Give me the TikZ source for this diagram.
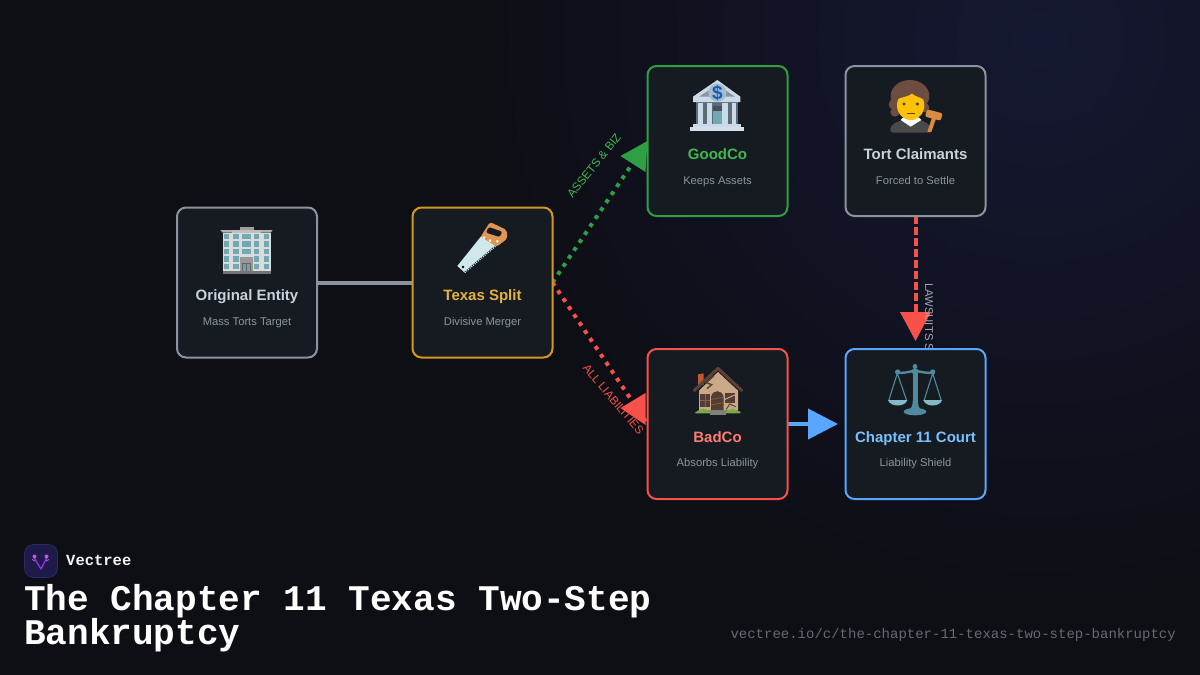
\documentclass[tikz,border=0pt]{standalone}
\usepackage{fontspec}
\setmainfont{Liberation Sans}
\newfontfamily\monofont{Liberation Mono}
\usetikzlibrary{arrows.meta,calc}
\definecolor{bgc}{HTML}{0E0E15}
\definecolor{glow}{HTML}{151832}
\definecolor{cardc}{HTML}{161B22}
\definecolor{grayb}{HTML}{8B949E}
\definecolor{titleg}{HTML}{C9D1D9}
\definecolor{gold}{HTML}{D29922}
\definecolor{goldt}{HTML}{E3B341}
\definecolor{greenb}{HTML}{2EA043}
\definecolor{greent}{HTML}{3FB950}
\definecolor{redb}{HTML}{F85149}
\definecolor{redt}{HTML}{FF7B72}
\definecolor{blueb}{HTML}{58A6FF}
\definecolor{bluet}{HTML}{79C0FF}
\definecolor{logobg}{HTML}{1E1B4B}
\definecolor{logoline}{HTML}{2E2A66}
\definecolor{logov}{HTML}{9333EA}
\definecolor{logod}{HTML}{C05AD8}
\definecolor{urlc}{HTML}{666B73}
\definecolor{windowc}{HTML}{72A8B1}
\pgfdeclarelayer{edges}
\pgfsetlayers{edges,main}
\tikzset{
  card/.style={draw=#1,fill=cardc,line width=2pt,rounded corners=9pt,minimum width=140pt,minimum height=150pt,inner sep=0pt,outer sep=0pt},
  cardtitle/.style={font=\fontsize{15}{18}\selectfont\bfseries,text=#1,anchor=base,inner sep=0pt},
  cardsub/.style={font=\fontsize{11.2}{14}\selectfont,text=grayb,anchor=base,inner sep=0pt},
  edgelabel/.style={font=\fontsize{11.6}{13}\selectfont,text=#1,inner sep=0pt},
  dotline/.style={line width=4pt,dash pattern=on 4pt off 5.6pt,draw=#1},
  icon/.style={x=0.33333pt,y=-0.33333pt},
}
\begin{document}
\begin{tikzpicture}[x=1pt,y=-1pt]
\useasboundingbox (0,0) rectangle (1200,675);
% cards
\node[card=grayb] (orig) at (247,282.5) {};
\node[card=gold] (texas) at (482.5,282.5) {};
\node[card=greenb] (good) at (717.5,141) {};
\node[card=grayb] (tort) at (915.5,141) {};
\node[card=redb] (bad) at (717.5,424) {};
\node[card=blueb] (court) at (915.5,424) {};
% card text
\node[cardtitle=titleg] (origT) at ($(orig.center)+(0,18)$) {Original Entity};
\node[cardsub] (origS) at ($(orig.center)+(0,42.5)$) {Mass Torts Target};
\node[cardtitle=goldt] (texasT) at ($(texas.center)+(0,18)$) {Texas Split};
\node[cardsub] (texasS) at ($(texas.center)+(0,42.5)$) {Divisive Merger};
\node[cardtitle=greent] (goodT) at ($(good.center)+(0,18.5)$) {GoodCo};
\node[cardsub] (goodS) at ($(good.center)+(0,43)$) {Keeps Assets};
\node[cardtitle=titleg] (tortT) at ($(tort.center)+(0,18.5)$) {Tort Claimants};
\node[cardsub] (tortS) at ($(tort.center)+(0,43)$) {Forced to Settle};
\node[cardtitle=redt] (badT) at ($(bad.center)+(0,18.5)$) {BadCo};
\node[cardsub] (badS) at ($(bad.center)+(0,42)$) {Absorbs Liability};
\node[cardtitle=bluet] (courtT) at ($(court.center)+(0,18.5)$) {Chapter 11 Court};
\node[cardsub] (courtS) at ($(court.center)+(0,42)$) {Liability Shield};
% connectors and background
\begin{pgfonlayer}{edges}
\fill[bgc] (0,0) rectangle (1200,675);
\begin{scope}
\clip (0,0) rectangle (1200,675);
\shade[inner color=glow,outer color=bgc] (1040,40) circle (560);
\end{scope}
\draw[grayb,line width=4pt] (orig.east) -- (texas.west);
\draw[dotline=greenb] (texas.east) -- (good.west);
\draw[dotline=redb] (texas.east) -- (bad.west);
\fill[greenb] ($(good.west)+(-27,15)$) -- ($(good.west)+(0,0)$) -- ($(good.west)+(-2,31)$) -- cycle;
\fill[redb] ($(bad.west)+(-27,-16)$) -- ($(bad.west)+(-2,-31)$) -- ($(bad.west)+(-2,1)$) -- cycle;
\draw[redb,line width=4pt,dash pattern=on 7.5pt off 3.5pt,-{Triangle[length=29pt,width=30pt]}] (tort.south) -- ($(court.north)+(0,-8)$);
\draw[blueb,line width=4pt,-{Triangle[length=30pt,width=30pt]}] (bad.east) -- ($(court.west)+(-7.5,0)$);
\node[edgelabel=greent,rotate=51] (lab1) at (594,165.5) {ASSETS \& BIZ};
\node[edgelabel=redb,rotate=-50] (lab2) at (613.5,399.5) {ALL LIABILITIES};
\node[edgelabel=grayb!80!white,rotate=-90,anchor=west,font=\fontsize{11.3}{13}\selectfont] (lab3) at (929,283) {LAWSUITS S};
\end{pgfonlayer}
% building
\begin{scope}[shift={(orig.center)},shift={(-35,-62.5)},icon]
\fill[black!38!white] (84,20) rectangle (125,34);
\fill[black!30!white] (25,30) -- (182,30) -- (176,38) -- (32,38) -- cycle;
\fill[black!14!white] (32,38) rectangle (176,155);
\fill[black!25!white] (60,30) rectangle (148,38);
\foreach \r in {50,72,95,117,140}{
  \foreach \c in {44,72,134,163}{\fill[windowc] (\c-8,\r-8) rectangle (\c+8,\r+8);}
}
\foreach \r in {50,72,95}{\fill[windowc] (91,\r-8) rectangle (117,\r+8);}
\fill[black!40!white] (84,110) rectangle (122,155);
\fill[black!60!white] (90,128) rectangle (118,155);
\fill[windowc!80!gray] (93,131) rectangle (102,155);
\fill[windowc!80!gray] (106,131) rectangle (115,155);
\fill[black!55!white] (32,152) rectangle (176,162);
\end{scope}
% saw
\begin{scope}[shift={(texas.center)},shift={(-34.5,-66.5)},icon]
\definecolor{bladec}{HTML}{CFE8EA}
\definecolor{sawh}{HTML}{E09552}
\draw[bladec,line width=1.2pt,dash pattern=on 1.1pt off 1.1pt] (50,170) -- (147,87);
\fill[bladec] (100,60) -- (28,150) -- (48,168) -- (145,85) -- cycle;
\fill[black!80!cardc] (45,153) circle (4);
\fill[sawh,rounded corners=2pt] (98,62) -- (126,18) -- (176,42) -- (178,68) -- (146,92) -- cycle;
\fill[cardc,rounded corners=1.5pt] (122,33) -- (163,47) -- (155,63) -- (114,50) -- cycle;
\foreach \p in {(108,65),(126,74),(148,76)}{\fill[white!90!sawh] \p circle (4.5);}
\end{scope}
% bank
\begin{scope}[shift={(good.center)},shift={(-34.5,-65)},icon]
\definecolor{bankl}{HTML}{CBDAE8}
\definecolor{bankd}{HTML}{5C6B78}
\definecolor{dollarc}{HTML}{0A5FC4}
\fill[bankd] (38,78) rectangle (166,146);
\fill[bankl] (30,62) -- (103,12) -- (172,62) -- (172,78) -- (30,78) -- cycle;
\fill[bankd!60!bankl] (48,62) -- (103,26) -- (156,62) -- cycle;
\fill[bankl!70!bankd] (103,50) circle (27);
\node[font=\fontsize{19}{19}\selectfont\bfseries,text=dollarc,inner sep=0pt] (bankd0) at (103,52) {\$};
\foreach \a/\b in {44/60,72/88,118/134,146/160}{\fill[bankl] (\a,82) rectangle (\b,144);}
\fill[bankd!75!black] (90,90) rectangle (116,106);
\fill[windowc] (90,105) rectangle (116,146);
\fill[bankl] (30,144) rectangle (174,153);
\fill[bankl!85!white] (22,152) rectangle (182,166);
\end{scope}
% judge
\begin{scope}[shift={(tort.center)},shift={(-35.5,-65)},icon]
\definecolor{hairc}{HTML}{6D4C41}
\definecolor{facec}{HTML}{FFC107}
\definecolor{robec}{HTML}{4A4A4A}
\definecolor{gavelc}{HTML}{D98C3F}
\fill[hairc] (90,60) ellipse (58 and 48);
\fill[hairc] (42,85) circle (16);
\fill[hairc] (45,108) circle (14);
\fill[hairc] (134,95) circle (14);
\fill[robec,rounded corners=4pt] (28,170) -- (34,146) -- (70,130) -- (118,130) -- (150,146) -- (156,170) -- cycle;
\fill[white] (62,132) -- (92,152) -- (124,132) -- (116,124) -- (70,124) -- cycle;
\fill[facec] (92,88) ellipse (41 and 44);
\fill[hairc] (50,70) .. controls (75,60) and (85,62) .. (96,52) .. controls (105,62) and (120,62) .. (134,72) -- (134,42) -- (50,42) -- cycle;
\fill[black!75!white] (72,84) circle (5);
\fill[black!75!white] (112,84) circle (5);
\draw[black!65!facec,line width=0.9pt] (80,111) -- (105,111);
\fill[gavelc] (142,168) -- (154,168) -- (170,122) -- (158,118) -- cycle;
\fill[gavelc,rounded corners=2pt] (141,100) -- (188,112) -- (182,134) -- (135,122) -- cycle;
\end{scope}
% house
\begin{scope}[shift={(bad.center)},shift={(-34.5,-64)},icon]
\definecolor{wallc}{HTML}{C9A988}
\definecolor{roofc}{HTML}{5D4037}
\definecolor{woodc}{HTML}{543D32}
\definecolor{chimc}{HTML}{BF5A30}
\definecolor{grassc}{HTML}{7CA845}
\fill[chimc] (45,43) -- (62,40) -- (62,75) -- (45,75) -- cycle;
\fill[wallc] (48,92) -- (105,36) -- (165,92) -- (165,152) -- (48,152) -- cycle;
\draw[roofc,line width=3pt,line join=round] (32,93) -- (105,25) -- (178,93);
\draw[roofc,line width=1.4pt] (92,48) -- (70,68) -- (86,74) -- (72,86);
\fill[woodc] (50,103) rectangle (82,142);
\draw[wallc!35!woodc,line width=0.6pt] (66,103) -- (66,142) (50,122) -- (82,122);
\fill[woodc] (126,100) rectangle (157,130);
\draw[wallc,line width=1pt] (126,118) -- (157,104);
\fill[woodc] (84,150) -- (84,110) .. controls (90,88) and (116,88) .. (122,110) -- (122,150) -- cycle;
\draw[wallc!35!woodc,line width=0.7pt] (85,118) -- (122,112) (85,134) -- (122,128);
\draw[roofc,line width=1pt] (130,148) -- (140,132) -- (158,140);
\fill[grassc] (36,158) -- (48,150) -- (62,146) -- (80,152) -- (132,152) -- (150,146) -- (173,156) -- (171,160) -- (38,160) -- cycle;
\fill[black!50!white] (80,152) rectangle (130,165);
\end{scope}
% scales
\begin{scope}[shift={(court.center)},shift={(-35.5,-66)},icon]
\definecolor{scalec}{HTML}{4F8A9E}
\definecolor{panc}{HTML}{86B9C7}
\fill[scalec] (105,161) ellipse (34 and 11);
\fill[scalec] (88,156) .. controls (96,150) and (98,140) .. (98,128) -- (114,128) .. controls (114,140) and (116,150) .. (122,156) -- cycle;
\fill[scalec] (98,35) rectangle (114,140);
\draw[scalec,line width=2.4pt] (52,44) .. controls (70,46) and (85,42) .. (105,38) .. controls (125,42) and (140,46) .. (158,44);
\fill[scalec] (105,25) circle (7);
\fill[scalec] (105,40) circle (10);
\fill[scalec] (53,42) circle (8);
\fill[scalec] (158,42) circle (8);
\draw[scalec,line width=1.1pt] (26,128) -- (52,46) -- (80,128);
\draw[scalec,line width=1.1pt] (132,128) -- (158,46) -- (184,128);
\fill[panc] (24,126) .. controls (30,148) and (76,148) .. (82,126) -- cycle;
\fill[panc] (130,126) .. controls (136,148) and (180,148) .. (186,126) -- cycle;
\end{scope}
% footer
\node[draw=logoline,fill=logobg,minimum size=33pt,rounded corners=9pt,inner sep=0pt,line width=0.7pt] (logo) at (41,561) {};
\begin{scope}[shift={(logo.center)}]
\draw[logov,line width=1.3pt,line join=round] (-7,-3.5) -- (0,8) -- (6,-3.5);
\fill[logod] (-6.5,-4.5) circle (2);
\fill[logod] (5.5,-4.5) circle (2);
\draw[logod,line width=0.8pt] (-9,-1.5) -- (-6,0) (8,-1.5) -- (5,0);
\end{scope}
\node[font=\monofont\bfseries\fontsize{15.5}{18}\selectfont,text=white!90!gray,anchor=base west,inner sep=0pt] (brand) at (66,565.5) {Vectree};
\node[font=\monofont\bfseries\fontsize{36.05}{33}\selectfont,text=white,anchor=north west,inner sep=0pt,align=left] (headline) at (24,584) {The Chapter 11 Texas Two-Step\\Bankruptcy};
\node[font=\monofont\fontsize{14}{16}\selectfont,text=urlc,anchor=base east,inner sep=0pt] (urltext) at (1176,638) {vectree.io/c/the-chapter-11-texas-two-step-bankruptcy};
\end{tikzpicture}
\end{document}
